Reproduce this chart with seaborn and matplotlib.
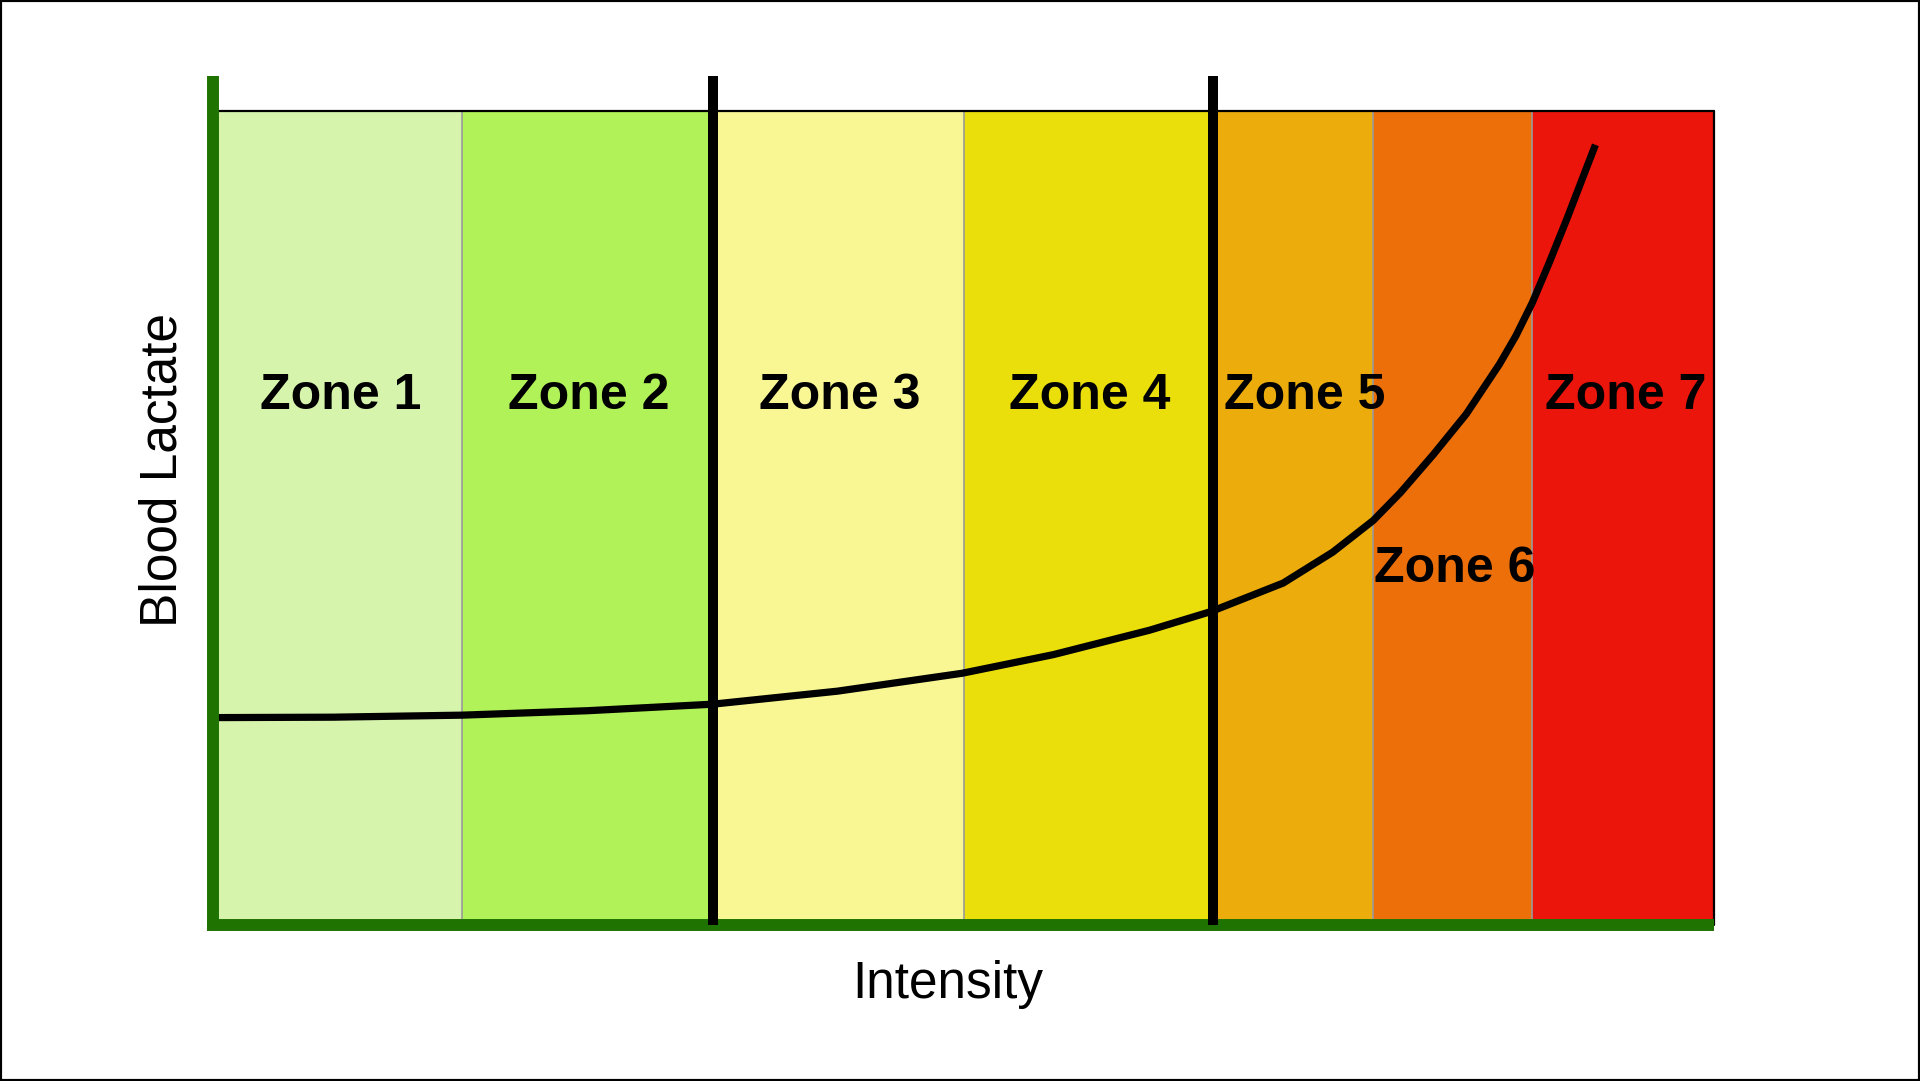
import matplotlib
matplotlib.use("Agg")
import matplotlib.pyplot as plt
import pandas as pd
import seaborn as sns
from matplotlib.patches import Rectangle

# zones along the intensity axis (0-100 scale)
ZONE_NAMES = ["Zone 1", "Zone 2", "Zone 3", "Zone 4", "Zone 5", "Zone 6", "Zone 7"]
ZONE_EDGES = [0.0, 16.6, 33.3, 50.0, 66.6, 77.3, 87.9, 100.0]
THRESHOLDS = [33.3, 66.6]

# blood lactate curve
CURVE_X = [0.3, 8.0, 16.6, 25.0, 33.3, 41.6, 49.9, 56.0, 62.4, 66.5, 71.3, 74.6,
           77.3, 79.1, 81.3, 83.5, 85.7, 86.8, 87.9, 89.0, 90.2, 92.1]
CURVE_Y = [25.45, 25.5, 25.75, 26.3, 27.1, 28.7, 30.9, 33.2, 36.2, 38.5, 42.0, 45.8,
           49.7, 53.1, 57.8, 62.8, 68.9, 72.4, 76.5, 81.3, 86.8, 95.9]

ZONE_COLORS = ["#D7F4AD", "#B0F257", "#F9F794", "#EBDF0B", "#ECAC0B", "#EC6F0A", "#EC150C"]
GREEN = "#1F7300"


def main() -> None:
    sns.set_theme(style="white")
    plt.rcParams["font.family"] = ["Liberation Sans", "DejaVu Sans"]

    fig = plt.figure(figsize=(19.2, 10.81), dpi=100)
    ax = fig.add_axes([213 / 1920, 1 - 924.5 / 1081, 1501 / 1920, 813 / 1081])
    ax.set_xlim(0, 100)
    ax.set_ylim(0, 100)
    ax.axis("off")

    lefts = ZONE_EDGES[:-1]
    widths = [b - a for a, b in zip(ZONE_EDGES[:-1], ZONE_EDGES[1:])]
    ax.bar(lefts, [100] * len(lefts), width=widths, align="edge", color=ZONE_COLORS,
           edgecolor="none", linewidth=0, zorder=1)
    for edge in ZONE_EDGES[1:-1]:
        ax.plot([edge, edge], [0, 100], color="#9A9A9A", lw=1.2, zorder=2)

    # box top and right
    ax.plot([0, 100], [100, 100], color="black", lw=1.6, zorder=3, clip_on=False)
    ax.plot([100, 100], [0, 100], color="black", lw=1.6, zorder=3, clip_on=False)

    curve = pd.DataFrame({"intensity": CURVE_X, "lactate": CURVE_Y})
    sns.lineplot(data=curve, x="intensity", y="lactate", ax=ax, color="black",
                 linewidth=5.2, sort=False, zorder=4)
    line = ax.lines[-1]
    line.set_linewidth(5.2)
    line.set_solid_capstyle("butt")
    line.set_solid_joinstyle("round")

    # green axes
    ax.plot([0, 0], [-0.7, 104.4], color=GREEN, lw=8.6, solid_capstyle="butt",
            zorder=5, clip_on=False)
    ax.plot([-0.4, 100], [0, 0], color=GREEN, lw=8.6, solid_capstyle="butt",
            zorder=5, clip_on=False)

    for t in THRESHOLDS:
        ax.plot([t, t], [0, 104.4], color="black", lw=7.2, solid_capstyle="butt",
                zorder=6, clip_on=False)

    label_y = [65.0, 65.0, 65.0, 65.0, 65.0, 43.7, 65.0]
    label_dx = [0.2, 0.1, 0.1, 0.1, 0.8, 0.1, 0.2]
    for i, name in enumerate(ZONE_NAMES):
        cx = (ZONE_EDGES[i] + ZONE_EDGES[i + 1]) / 2 + label_dx[i]
        ax.text(cx, label_y[i], name, ha="center", va="center", fontsize=36,
                fontweight="bold", color="black", zorder=7)

    fig.text(948 / 1920, 1 - 998 / 1081, "Intensity", ha="center", va="baseline",
             fontsize=37, color="black")
    fig.text(163 / 1920, 1 - 470 / 1081, "Blood Lactate", ha="center", va="center",
             rotation=90, fontsize=37, color="black")

    fig.patches.append(Rectangle((0, 0), 1, 1, transform=fig.transFigure, fill=False,
                                 edgecolor="black", lw=3))

    fig.savefig("out.png", dpi=100, facecolor="white")
    plt.close(fig)


if __name__ == "__main__":
    main()
